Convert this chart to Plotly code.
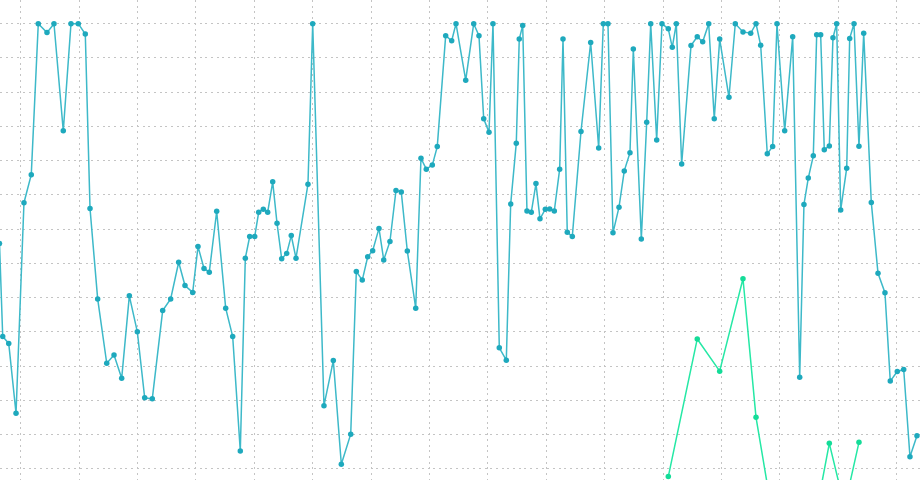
import plotly.graph_objects as go

# time index (one grid step = 10 units) and readings
teal_x = [
    -3.63, -3.08, -2.05, -0.80, 0.56, 1.81, 3.01, 4.50, 5.70, 7.29,
    8.61, 9.86, 11.06, 11.87, 13.18, 14.73, 15.98, 17.29, 18.60, 19.97,
    21.23, 22.53, 24.31, 25.68, 27.05, 28.13, 29.45, 30.36, 31.39, 32.29,
    33.56, 35.10, 36.30, 37.60, 38.46, 39.21, 40.07, 40.75, 41.54, 42.29,
    43.15, 43.89, 44.69, 45.55, 46.33, 47.14, 49.19, 50.00, 51.93, 53.53,
    54.90, 56.51, 57.47, 58.49, 59.42, 60.27, 61.35, 62.16, 63.23, 64.26,
    65.17, 66.20, 67.64, 68.54, 69.45, 70.48, 71.33, 72.77, 73.80, 74.54,
    76.20, 77.57, 78.47, 79.28, 80.19, 80.87, 81.95, 83.15, 83.90, 84.86,
    85.37, 85.96, 86.69, 87.43, 88.23, 88.92, 89.83, 90.58, 91.37, 92.29,
    92.86, 93.59, 94.45, 95.94, 97.60, 98.97, 99.76, 100.56, 101.42, 102.45,
    103.35, 104.33, 104.90, 106.27, 107.19, 107.88, 108.90, 109.81, 110.89, 111.57,
    112.26, 113.18, 114.78, 115.85, 116.78, 117.81, 118.76, 119.69, 121.28, 122.36,
    123.68, 125.00, 125.91, 126.71, 127.84, 128.76, 129.50, 130.82, 132.19, 133.39,
    134.12, 134.86, 135.72, 136.30, 136.98, 137.60, 138.46, 139.09, 139.72, 140.41,
    141.44, 141.95, 142.69, 143.54, 144.35, 145.65, 146.80, 147.99, 148.90, 150.10,
    151.20, 152.27, 153.47,
]
teal_y = [
    35.8, 8.6, 6.6, -13.8, 47.7, 55.9, 100, 97.4, 100, 68.7,
    100, 100, 97.0, 46.0, 19.6, 0.8, 3.2, -3.6, 20.5, 10.0,
    -9.3, -9.6, 16.2, 19.6, 30.3, 23.5, 21.5, 34.9, 28.5, 27.4,
    45.2, 16.9, 8.6, -24.8, 31.5, 37.8, 37.8, 44.9, 45.8, 44.9,
    53.8, 41.7, 31.3, 32.9, 38.1, 31.5, 53.1, 100, -11.6, 1.6,
    -28.7, -19.9, 27.6, 25.1, 31.9, 33.7, 40.2, 31.0, 36.4, 51.3,
    50.8, 33.6, 16.9, 60.7, 57.5, 58.7, 64.1, 96.5, 95.0, 100,
    83.5, 100, 96.5, 72.2, 68.3, 100, 5.3, 1.7, 47.3, 65.1,
    95.5, 99.5, 45.3, 44.9, 53.3, 43.0, 45.8, 45.9, 45.3, 57.5,
    95.5, 39.1, 37.8, 68.5, 94.5, 63.7, 100, 100, 38.9, 46.4,
    57.0, 62.3, 92.6, 37.1, 71.2, 100, 66.0, 100, 98.5, 93.1,
    100, 59.0, 93.6, 96.2, 94.7, 100, 72.2, 95.5, 78.5, 100,
    97.6, 97.2, 100, 93.7, 62.0, 64.1, 100, 68.7, 96.2, -3.3,
    47.2, 54.9, 61.4, 96.8, 96.8, 63.2, 64.3, 95.9, 100, 45.6,
    57.8, 95.7, 100, 64.2, 97.2, 47.8, 27.1, 21.4, -4.4, -1.6,
    -1.0, -26.5, -20.4,
]

green_x = [110.89, 115.85, 119.69, 123.68, 125.91, 129.50, 136.30, 138.46, 141.08, 143.54]
green_y = [-32.3, 7.9, -1.5, 25.5, -15.0, -51.4, -42.1, -22.6, -41.1, -22.3]

fig = go.Figure()
fig.add_trace(go.Scatter(
    x=teal_x, y=teal_y, mode="lines+markers",
    line=dict(color="#3db9c9", width=1.5),
    marker=dict(color="#1ea9bd", size=5.5),
))
fig.add_trace(go.Scatter(
    x=green_x, y=green_y, mode="lines+markers",
    line=dict(color="#25e8a5", width=1.5),
    marker=dict(color="#14dc98", size=5.5),
))

grid = dict(
    showgrid=True, gridcolor="#c4c4c4", griddash="2px,3.7px", gridwidth=1,
    zeroline=False, showticklabels=False, ticks="", showline=False,
    dtick=10, tick0=0,
)
fig.update_layout(
    width=920, height=480,
    margin=dict(l=0, r=0, t=0, b=0, pad=0),
    paper_bgcolor="white", plot_bgcolor="white",
    showlegend=False,
    xaxis=dict(range=[-3.545, 153.99], **grid),
    yaxis=dict(range=[-33.3, 106.92], **grid),
)

# drop the browser's default 8px body margin so the plot sits at (0, 0)
fig.write_html(
    "out.html",
    config={"displayModeBar": False},
    post_script="document.body.style.margin='0';document.body.style.overflow='hidden';",
)
